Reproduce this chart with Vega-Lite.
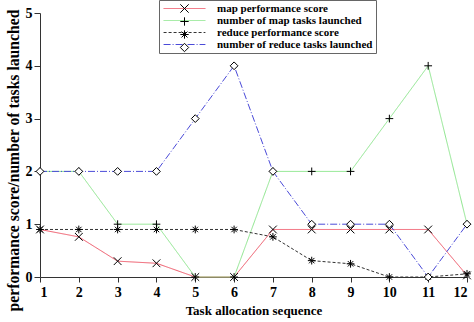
{
  "$schema": "https://vega.github.io/schema/vega-lite/v6.json",
  "width": 427,
  "height": 264,
  "autosize": {"type": "none"},
  "padding": {"left": 40, "top": 13, "right": 7, "bottom": 45},
  "background": "white",
  "config": {
    "view": {"stroke": null},
    "font": "Liberation Serif",
    "axis": {
      "grid": false,
      "labelFont": "Liberation Serif",
      "labelFontWeight": "bold",
      "labelFontSize": 14,
      "labelColor": "black",
      "titleFont": "Liberation Serif",
      "titleFontWeight": "bold",
      "titleColor": "black",
      "domainColor": "#333333",
      "tickColor": "#333333"
    }
  },
  "data": {
    "values": [
      {"seq": 1, "series": "map performance score", "value": 0.9},
      {"seq": 2, "series": "map performance score", "value": 0.76},
      {"seq": 3, "series": "map performance score", "value": 0.3},
      {"seq": 4, "series": "map performance score", "value": 0.26},
      {"seq": 5, "series": "map performance score", "value": 0},
      {"seq": 6, "series": "map performance score", "value": 0},
      {"seq": 7, "series": "map performance score", "value": 0.9},
      {"seq": 8, "series": "map performance score", "value": 0.9},
      {"seq": 9, "series": "map performance score", "value": 0.9},
      {"seq": 10, "series": "map performance score", "value": 0.9},
      {"seq": 11, "series": "map performance score", "value": 0.9},
      {"seq": 12, "series": "map performance score", "value": 0.03},
      {"seq": 1, "series": "number of map tasks launched", "value": 2},
      {"seq": 2, "series": "number of map tasks launched", "value": 2},
      {"seq": 3, "series": "number of map tasks launched", "value": 1},
      {"seq": 4, "series": "number of map tasks launched", "value": 1},
      {"seq": 5, "series": "number of map tasks launched", "value": 0},
      {"seq": 6, "series": "number of map tasks launched", "value": 0},
      {"seq": 7, "series": "number of map tasks launched", "value": 2},
      {"seq": 8, "series": "number of map tasks launched", "value": 2},
      {"seq": 9, "series": "number of map tasks launched", "value": 2},
      {"seq": 10, "series": "number of map tasks launched", "value": 3},
      {"seq": 11, "series": "number of map tasks launched", "value": 4},
      {"seq": 12, "series": "number of map tasks launched", "value": 1},
      {"seq": 1, "series": "reduce performance score", "value": 0.9},
      {"seq": 2, "series": "reduce performance score", "value": 0.9},
      {"seq": 3, "series": "reduce performance score", "value": 0.9},
      {"seq": 4, "series": "reduce performance score", "value": 0.9},
      {"seq": 5, "series": "reduce performance score", "value": 0.9},
      {"seq": 6, "series": "reduce performance score", "value": 0.9},
      {"seq": 7, "series": "reduce performance score", "value": 0.76},
      {"seq": 8, "series": "reduce performance score", "value": 0.31},
      {"seq": 9, "series": "reduce performance score", "value": 0.25},
      {"seq": 10, "series": "reduce performance score", "value": 0},
      {"seq": 11, "series": "reduce performance score", "value": 0},
      {"seq": 12, "series": "reduce performance score", "value": 0.06},
      {"seq": 1, "series": "number of reduce tasks launched", "value": 2},
      {"seq": 2, "series": "number of reduce tasks launched", "value": 2},
      {"seq": 3, "series": "number of reduce tasks launched", "value": 2},
      {"seq": 4, "series": "number of reduce tasks launched", "value": 2},
      {"seq": 5, "series": "number of reduce tasks launched", "value": 3},
      {"seq": 6, "series": "number of reduce tasks launched", "value": 4},
      {"seq": 7, "series": "number of reduce tasks launched", "value": 2},
      {"seq": 8, "series": "number of reduce tasks launched", "value": 1},
      {"seq": 9, "series": "number of reduce tasks launched", "value": 1},
      {"seq": 10, "series": "number of reduce tasks launched", "value": 1},
      {"seq": 11, "series": "number of reduce tasks launched", "value": 0},
      {"seq": 12, "series": "number of reduce tasks launched", "value": 1}
    ]
  },
  "encoding": {
    "x": {
      "field": "seq",
      "type": "quantitative",
      "scale": {"domain": [1, 12], "nice": false, "zero": false},
      "axis": {
        "values": [1, 2, 3, 4, 5, 6, 7, 8, 9, 10, 11, 12],
        "format": "d",
        "tickSize": 5,
        "labelPadding": 3,
        "title": "Task allocation sequence",
        "titleFontSize": 13,
        "titlePadding": 5
      }
    },
    "y": {
      "field": "value",
      "type": "quantitative",
      "scale": {"domain": [0, 5], "nice": false},
      "axis": {
        "values": [0, 1, 2, 3, 4, 5],
        "format": "d",
        "tickSize": 6,
        "labelPadding": 2,
        "title": "performance score/number of tasks launched",
        "titleFontSize": 15.7,
        "titlePadding": 4,
        "titleAnchor": "middle",
        "titleY": 147
      }
    }
  },
  "layer": [
    {
      "mark": {"type": "line", "strokeWidth": 1},
      "encoding": {
        "color": {
          "field": "series",
          "type": "nominal",
          "sort": null,
          "scale": {
            "domain": ["map performance score", "number of map tasks launched", "reduce performance score", "number of reduce tasks launched"],
            "range": ["#ee5566", "#8ee68e", "#333333", "#4a4ad8"]
          },
          "legend": {
            "title": null,
            "orient": "none",
            "legendX": 119,
            "legendY": -13,
            "symbolType": "M-5,0L5,0",
            "symbolSize": 70,
            "symbolStrokeWidth": 1,
            "symbolOffset": 17,
            "labelFont": "Liberation Serif",
            "labelFontWeight": "bold",
            "labelFontSize": 11,
            "labelColor": "black",
            "labelOffset": 27,
            "padding": 3,
            "rowPadding": 0,
            "strokeColor": "#666666"
          }
        },
        "strokeDash": {
          "field": "series",
          "type": "nominal",
          "sort": null,
          "scale": {
            "domain": ["map performance score", "number of map tasks launched", "reduce performance score", "number of reduce tasks launched"],
            "range": [[1, 0], [1, 0], [3, 2], [7, 2, 1, 2]]
          },
          "legend": {
            "title": null,
            "orient": "none",
            "legendX": 119,
            "legendY": -13,
            "symbolType": "M-5,0L5,0",
            "symbolSize": 70,
            "symbolStrokeWidth": 1,
            "symbolOffset": 17,
            "labelFont": "Liberation Serif",
            "labelFontWeight": "bold",
            "labelFontSize": 11,
            "labelColor": "black",
            "labelOffset": 27,
            "padding": 3,
            "rowPadding": 0,
            "strokeColor": "#666666"
          }
        }
      }
    },
    {
      "transform": [{"calculate": "datum.series", "as": "marker"}],
      "mark": {"type": "point", "filled": true, "fill": "white", "stroke": "black", "strokeWidth": 1, "size": 60, "opacity": 1},
      "encoding": {
        "shape": {
          "field": "marker",
          "type": "nominal",
          "sort": null,
          "scale": {
            "range": ["M-1,-1L1,1M1,-1L-1,1", "M-1,0L1,0M0,-1L0,1", "M-1,0L1,0M0,-1L0,1M-0.7,-0.7L0.7,0.7M-0.7,0.7L0.7,-0.7", "diamond"]
          },
          "legend": {
            "title": null,
            "orient": "none",
            "legendX": 119,
            "legendY": -13,
            "symbolSize": 70,
            "symbolStrokeWidth": 1,
            "symbolOffset": 17,
            "labelFont": "Liberation Serif",
            "labelFontWeight": "bold",
            "labelFontSize": 11,
            "labelOpacity": 0,
            "labelOffset": 27,
            "padding": 3,
            "rowPadding": 0,
            "encode": {
              "symbols": {
                "update": {
                  "stroke": {"value": "black"},
                  "fill": {"value": "white"},
                  "strokeWidth": {"value": 1},
                  "opacity": {"value": 1}
                }
              }
            }
          }
        }
      }
    }
  ]
}
